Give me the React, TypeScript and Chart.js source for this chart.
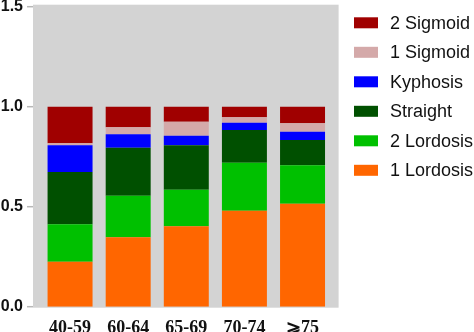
import React, { useEffect, useRef } from "react";
import { Chart, registerables } from "chart.js";
Chart.register(...registerables);

const categories = ["40-59", "60-64", "65-69", "70-74", "⩾75"];
const lordosis1 = [0.225, 0.347, 0.402, 0.48, 0.515];
const lordosis2 = [0.187, 0.208, 0.183, 0.24, 0.192];
const straight = [0.261, 0.24, 0.222, 0.163, 0.126];
const kyphosis = [0.134, 0.067, 0.048, 0.037, 0.042];
const sigmoid1 = [0.01, 0.035, 0.07, 0.027, 0.042];
const sigmoid2 = [0.183, 0.103, 0.075, 0.053, 0.083];
const yTicks = [0, 0.5, 1.0, 1.5];

const seriesNames = ["1 Lordosis", "2 Lordosis", "Straight", "Kyphosis", "1 Sigmoid", "2 Sigmoid"];
const seriesColors = ["#ff6600", "#00c000", "#005000", "#0000ff", "#d4a9a9", "#a00000"];
const seriesValues = [lordosis1, lordosis2, straight, kyphosis, sigmoid1, sigmoid2];

const bgPlugin = {
  id: "bgPlugin",
  beforeDraw(chart: any) {
    const { ctx, chartArea, scales } = chart;
    ctx.save();
    ctx.fillStyle = "#d3d3d3";
    const top = scales.y.getPixelForValue(1.5) - 2;
    const bottom = scales.y.getPixelForValue(0) + 1;
    ctx.fillRect(chartArea.left - 8, top, chartArea.right - chartArea.left + 15, bottom - top);
    ctx.strokeStyle = "#b8b8b8";
    ctx.lineWidth = 1.5;
    yTicks.forEach((t) => {
      const y = scales.y.getPixelForValue(t);
      ctx.beginPath();
      ctx.moveTo(chartArea.left - 14, y);
      ctx.lineTo(chartArea.left - 8, y);
      ctx.stroke();
    });
    ctx.restore();
  },
  afterDraw(chart: any) {
    const { ctx } = chart;
    ctx.save();
    const ds = chart.data.datasets;
    ctx.font = '18px "Liberation Sans", Arial, sans-serif';
    ctx.textBaseline = "middle";
    ctx.textAlign = "left";
    for (let i = ds.length - 1, row = 0; i >= 0; i--, row++) {
      const y = 22.8 + row * 29.5;
      ctx.fillStyle = ds[i].backgroundColor;
      ctx.fillRect(354, y - 5.5, 24, 11);
      ctx.fillStyle = "#111";
      ctx.fillText(ds[i].label, 390, y + 1);
    }
    ctx.restore();
  },
};

export default function App() {
  const ref = useRef<HTMLCanvasElement>(null);
  useEffect(() => {
    document.body.style.margin = "0";
    const chart = new Chart(ref.current!, {
      type: "bar",
      data: {
        labels: categories,
        datasets: seriesNames.map((n, i) => ({
          label: n,
          data: seriesValues[i],
          backgroundColor: seriesColors[i],
          borderWidth: 0,
          barPercentage: 0.774,
          categoryPercentage: 1,
        })),
      },
      options: {
        responsive: false,
        animation: false,
        layout: { padding: { top: 6.7, right: 142.4, left: 0, bottom: 0 } },
        plugins: { legend: { display: false }, tooltip: { enabled: false } },
        scales: {
          x: {
            stacked: true,
            grid: { display: false, drawTicks: false },
            border: { display: false },
            ticks: {
              color: "#111",
              padding: 11,
              font: { family: '"Liberation Serif", "DejaVu Serif", serif', size: 18, weight: "bold" },
            },
            afterFit: (s: any) => { s.height = 25.3; s.paddingLeft = 0; s.paddingRight = 0; },
          },
          y: {
            stacked: true,
            min: 0,
            max: 1.5,
            afterBuildTicks: (s: any) => { s.ticks = yTicks.map((v) => ({ value: v })); },
            grid: { display: false, drawTicks: false },
            border: { display: false },
            ticks: {
              color: "#111",
              padding: 18,
              callback: (v: any) => Number(v).toFixed(1),
              font: { family: '"Liberation Sans", Arial, sans-serif', size: 16, weight: "bold" },
            },
            afterFit: (s: any) => { s.width = 41; s.paddingTop = 0; s.paddingBottom = 0; },
          },
        },
      },
      plugins: [bgPlugin],
    });
    return () => chart.destroy();
  }, []);
  return (
    <div style={{ position: "absolute", left: 0, top: 0, width: 474, height: 332 }}>
      <canvas ref={ref} width={474} height={332} style={{ width: 474, height: 332 }} />
    </div>
  );
}
